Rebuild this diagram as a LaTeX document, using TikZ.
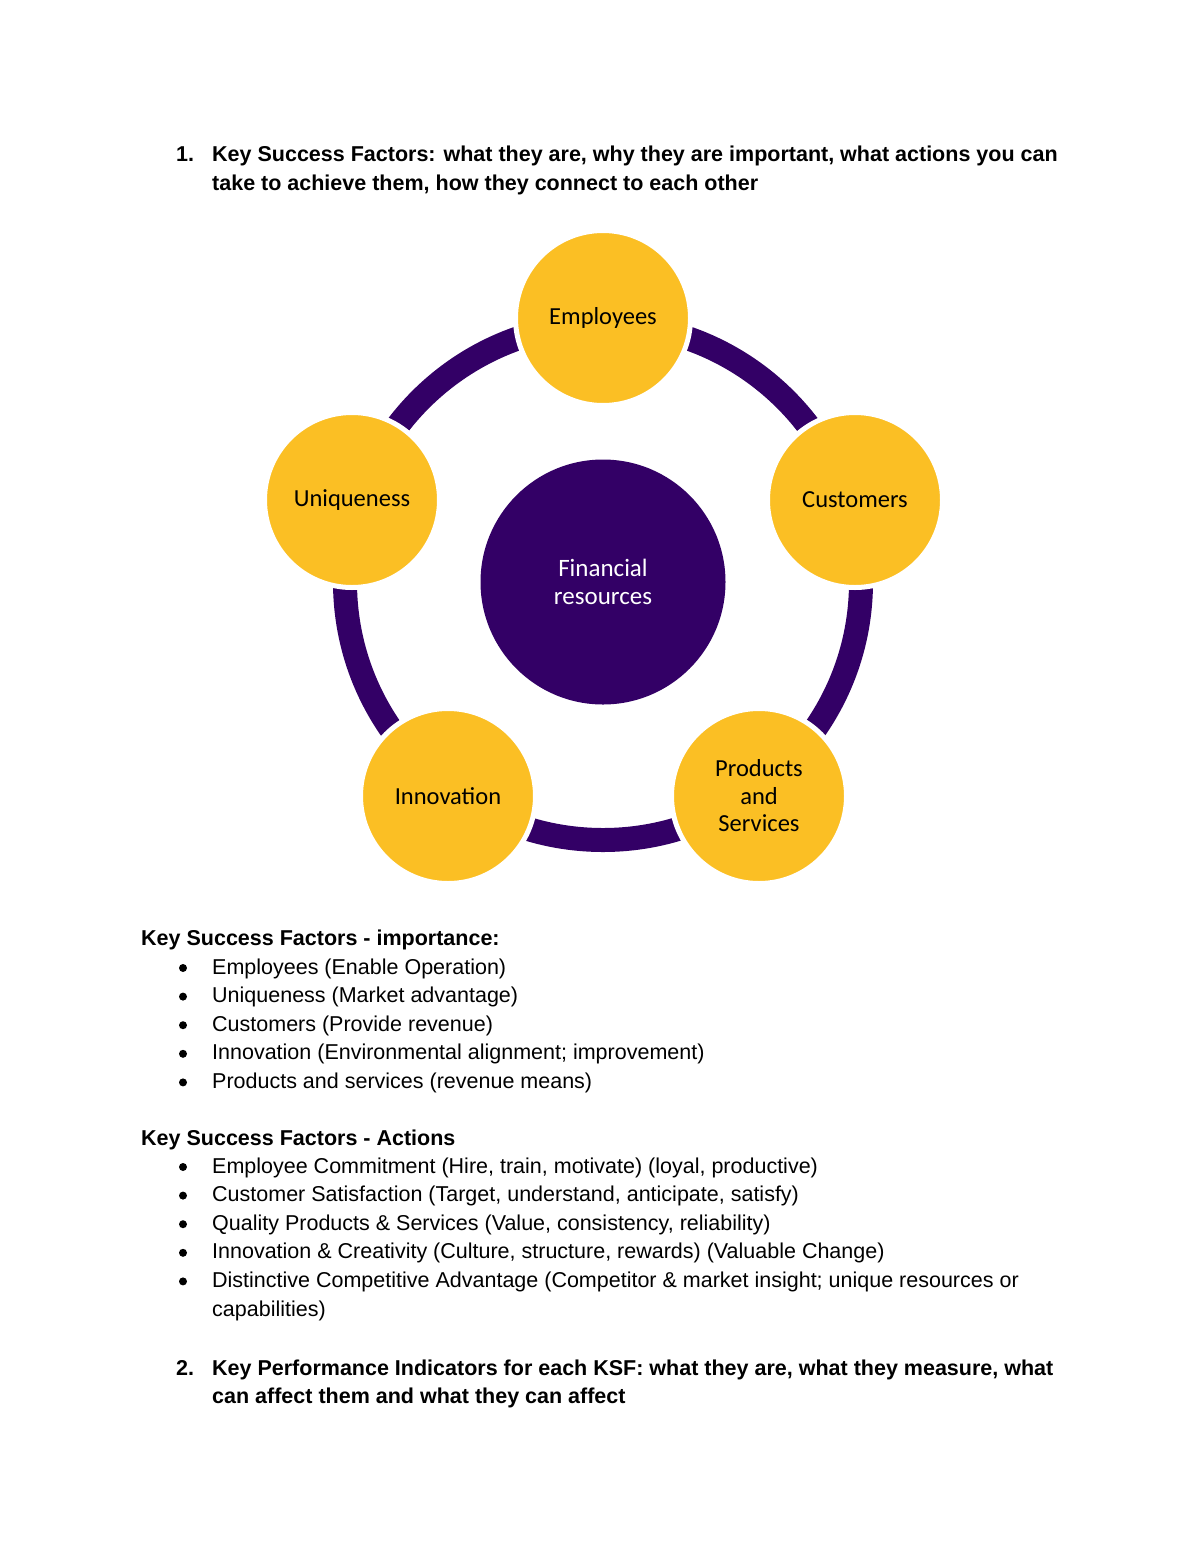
\documentclass[tikz,border=0pt]{standalone}
\usepackage{fontspec}
\setmainfont{Liberation Sans}
\newfontfamily\calib{Carlito}
\definecolor{ksfpurple}{RGB}{51,0,102}
\definecolor{ksfyellow}{RGB}{251,191,36}
\begin{document}
\begin{tikzpicture}[x=1pt,y=-1pt,
  ksf/.style={circle, fill=ksfyellow, draw=white, line width=5pt, minimum size=175pt, inner sep=0pt,
    font=\calib\fontsize{24.5}{27.5}\selectfont, align=center, text=black},
  core/.style={circle, fill=ksfpurple, minimum size=245pt, inner sep=0pt,
    font=\calib\fontsize{25}{28}\selectfont, align=center, text=white},
  ring/.style={draw=ksfpurple, line width=24pt},
  body/.style={anchor=base west, inner sep=0pt, font=\fontsize{21.5}{25}\selectfont},
  head/.style={anchor=base west, inner sep=0pt, font=\bfseries\fontsize{21.5}{25}\selectfont},
  bul/.style={circle, fill=black, minimum size=8pt, inner sep=0pt}
]
\useasboundingbox[fill=white] (0,0) rectangle (1200,1553);

% title
\node[head] (n1) at (176,161) {1.};
\node[head] (t1a) at (212,161) {Key Success Factors: what they are, why they are important, what actions you can};
\node[head] (t1b) at (212,190) {take to achieve them, how they connect to each other};

% diagram
\coordinate (ctr) at (603,582);
\draw[ring] (ctr) circle[radius=258];
\node[core] (fin) at (603,582) {Financial\\resources};
\node[ksf] (emp) at (603,318) {Employees};
\node[ksf] (cus) at (855,500) {Customers};
\node[ksf] (uni) at (352,500) {Uniqueness};
\node[ksf] (inn) at (448,796) {Innovation};
\node[ksf] (pro) at (759,796) {Products\\and\\Services};

% importance
\node[head] (h1) at (141,945) {Key Success Factors - importance:};
\foreach \i/\t in {0/{Employees (Enable Operation)},
                   1/{Uniqueness (Market advantage)},
                   2/{Customers (Provide revenue)},
                   3/{Innovation (Environmental alignment; improvement)},
                   4/{Products and services (revenue means)}}{
  \node[bul] (ib\i) at (183,{974+28.6*\i-6}) {};
  \node[body] (it\i) at (212,{974+28.6*\i}) {\t};
}

% actions
\node[head] (h2) at (141,1145) {Key Success Factors - Actions};
\foreach \i/\t in {0/{Employee Commitment (Hire, train, motivate) (loyal, productive)},
                   1/{Customer Satisfaction (Target, understand, anticipate, satisfy)},
                   2/{Quality Products \& Services (Value, consistency, reliability)},
                   3/{Innovation \& Creativity (Culture, structure, rewards) (Valuable Change)},
                   4/{Distinctive Competitive Advantage (Competitor \& market insight; unique resources or}}{
  \node[bul] (ab\i) at (183,{1173+28.6*\i-6}) {};
  \node[body] (at\i) at (212,{1173+28.6*\i}) {\t};
}
\node[body] (at5) at (212,1316) {capabilities)};

% section 2
\node[head] (n2) at (176,1375) {2.};
\node[head] (t2a) at (212,1375) {Key Performance Indicators for each KSF: what they are, what they measure, what};
\node[head] (t2b) at (212,1403) {can affect them and what they can affect};
\end{tikzpicture}
\end{document}
